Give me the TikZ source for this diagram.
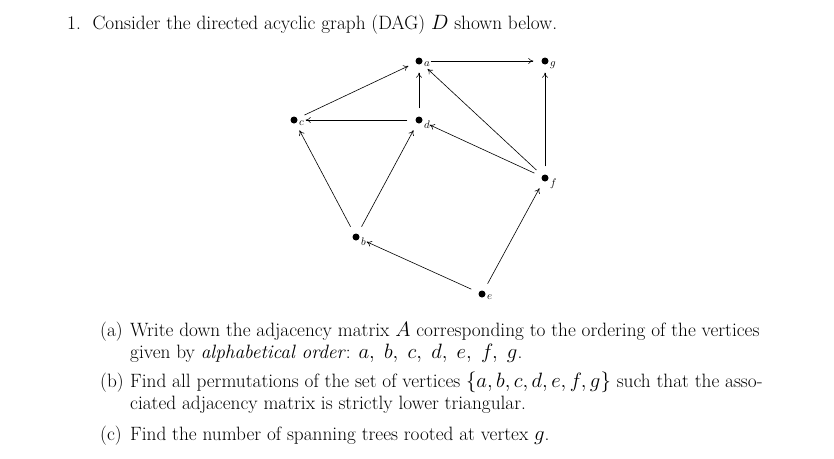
\documentclass[tikz,border=0pt]{standalone}
\usetikzlibrary{arrows.meta}
\begin{document}
\begin{tikzpicture}[x=1pt,y=-1pt,
  vtx/.style={circle,fill=black,inner sep=0pt,minimum size=7pt},
  lab/.style={font=\fontsize{11}{12}\selectfont\itshape,inner sep=0pt,anchor=north west},
  edge/.style={-{To[length=5pt,width=6pt]},line width=0.6pt,shorten >=8pt,shorten <=8pt},
  body/.style={font=\fontsize{19.3}{22}\selectfont,inner sep=0pt,anchor=base west}]
\useasboundingbox (0,0) rectangle (834,458);
\node[vtx] (a) at (419,61) {}; \node[lab] at (424,62) {$a$};
\node[vtx] (g) at (545,61) {}; \node[lab] at (550,62) {$g$};
\node[vtx] (c) at (294,120) {}; \node[lab] at (299,121) {$c$};
\node[vtx] (d) at (419,120) {}; \node[lab] at (424,121) {$d$};
\node[vtx] (f) at (545,178) {}; \node[lab] at (550,179) {$f$};
\node[vtx] (b) at (356,237) {}; \node[lab] at (361,238) {$b$};
\node[vtx] (e) at (482,294) {}; \node[lab] at (487,295) {$e$};
\draw[edge] (c) -- (a);
\draw[edge] (a) -- (g);
\draw[edge] (d) -- (c);
\draw[edge] (d) -- (a);
\draw[edge] (f) -- (a);
\draw[edge] (f) -- (d);
\draw[edge] (f) -- (g);
\draw[edge] (b) -- (c);
\draw[edge] (b) -- (d);
\draw[edge] (e) -- (b);
\draw[edge] (e) -- (f);
\node[body] (t1) at (67,29) {1.\ \ Consider the directed acyclic graph (DAG) $D$ shown below.};
\node[body] (ia) at (100,336) {(a)};
\node[body] (ta) at (130,336) {Write down the adjacency matrix $A$ corresponding to the ordering of the vertices};
\node[body] (ta2) at (130,358) {given by \emph{alphabetical order}: $a,\ b,\ c,\ d,\ e,\ f,\ g$.};
\node[body] (ib) at (100,387) {(b)};
\node[body] (tb) at (130,387) {Find all permutations of the set of vertices $\{a,b,c,d,e,f,g\}$ such that the asso-};
\node[body] (tb2) at (130,409) {ciated adjacency matrix is strictly lower triangular.};
\node[body] (ic) at (100,440) {(c)};
\node[body] (tc) at (130,440) {Find the number of spanning trees rooted at vertex $g$.};
\end{tikzpicture}
\end{document}
